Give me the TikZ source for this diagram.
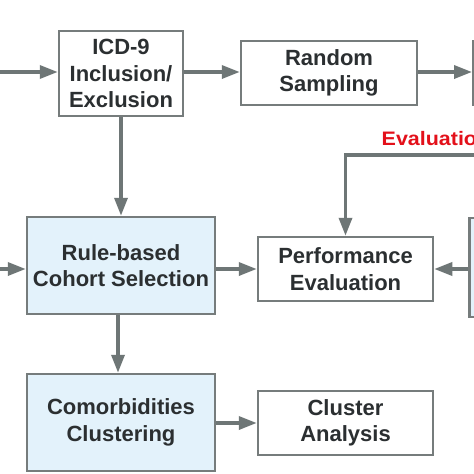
\documentclass[tikz,border=0pt]{standalone}
\usepackage{fontspec}
\setmainfont{Liberation Sans}
\usetikzlibrary{arrows.meta}
\definecolor{linegray}{HTML}{6E7676}
\definecolor{boxgray}{HTML}{767C7C}
\definecolor{lightblue}{HTML}{E3F2FB}
\definecolor{txt}{HTML}{2B2F31}
\definecolor{evred}{HTML}{E3101A}
\tikzset{
  box/.style={draw=boxgray, line width=2.5pt, fill=white, align=center, inner sep=0pt,
    font=\fontsize{22}{26.6}\selectfont\bfseries, text=txt},
  bluebox/.style={box, fill=lightblue},
  arr/.style={draw=linegray, line width=3.5pt, -{Triangle[length=18pt,width=13pt]}},
}
\begin{document}
\begin{tikzpicture}[x=1pt,y=-1pt]
\path[use as bounding box, clip] (0,0) rectangle (474,474);
\fill[white] (0,0) rectangle (474,474);
\node[box, minimum width=124pt, minimum height=85pt] (icd) at (121,73.5) {ICD-9\\Inclusion/\\Exclusion};
\node[box, minimum width=176pt, minimum height=64pt] (rand) at (329,73) {Random\\Sampling};
\node[box, minimum width=120pt, minimum height=64pt, anchor=west] (rtop) at (472,73) {};
\node[bluebox, minimum width=188pt, minimum height=97pt] (rule) at (121,265.5) {Rule-based\\Cohort Selection};
\node[box, minimum width=175pt, minimum height=64pt] (perf) at (345.5,269) {Performance\\Evaluation};
\node[bluebox, minimum width=120pt, minimum height=99pt, anchor=west] (rmid) at (468,267.5) {};
\node[bluebox, minimum width=188pt, minimum height=97pt] (com) at (121,422.5) {Comorbidities\\Clustering};
\node[box, minimum width=175pt, minimum height=64pt] (clus) at (345.5,423) {Cluster\\Analysis};
\node[anchor=base west, text=evred, font=\fontsize{19.5}{24}\selectfont\bfseries\addfontfeature{FakeStretch=1.1}, inner sep=0pt] (evlab) at (381.5,145.5) {Evaluation};
\coordinate (inA) at (-10,72);
\coordinate (inB) at (-10,269);
\coordinate (evc) at (490,155);
\draw[arr] (inA) -- (inA -| icd.west);
\draw[arr] (icd.east |- inA) -- (rand.west |- inA);
\draw[arr] (rand.east |- inA) -- (rtop.west |- inA);
\draw[arr] (icd.south) -- (rule.north);
\draw[arr] (inB) -- (inB -| rule.west);
\draw[arr] (rule.east |- perf.west) -- (perf.west);
\draw[arr] (rmid.west |- perf.east) -- (perf.east);
\draw[arr] (evc) -| (perf.north);
\draw[arr] ([xshift=-3pt]rule.south) -- ([xshift=-3pt]com.north);
\draw[arr] (com.east |- clus.west) -- (clus.west);
\end{tikzpicture}
\end{document}
